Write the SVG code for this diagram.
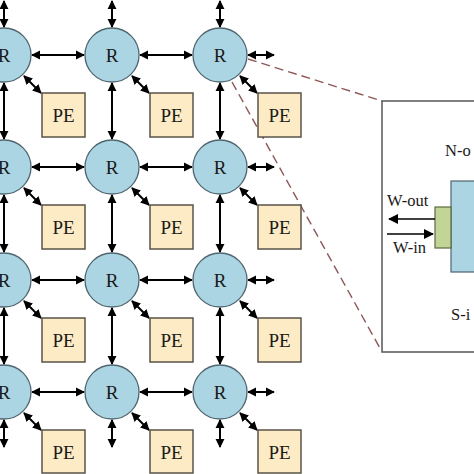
<svg xmlns="http://www.w3.org/2000/svg" width="474" height="474" viewBox="0 0 474 474">
<style>
.r{fill:#acd5e3;stroke:#4f6670;stroke-width:1.3}
.pe{fill:#fcebc4;stroke:#5a5347;stroke-width:1.5}
.t{font-family:"Liberation Serif","Times New Roman",serif;font-size:19px;fill:#1a1a1a;text-anchor:middle}
.lt{font-family:"Liberation Serif","Times New Roman",serif;font-size:16.5px;fill:#1a1a1a}
.a{stroke:#000;stroke-width:2;fill:none;marker-start:url(#h);marker-end:url(#h)}
.dash{stroke:#8e5656;stroke-width:1.4;stroke-dasharray:9 5;fill:none}
</style>
<defs>
<marker id="h" viewBox="0 0 10 10" refX="9" refY="5" markerWidth="9" markerHeight="11" markerUnits="userSpaceOnUse" orient="auto-start-reverse">
<path d="M0,0 L10,5 L0,10 Z" fill="#000"/>
</marker>
<marker id="s" viewBox="0 0 10 10" refX="9" refY="5" markerWidth="10" markerHeight="10" markerUnits="userSpaceOnUse" orient="auto">
<path d="M0,0 L10,5 L0,10 Z" fill="#000"/>
</marker>
</defs>
<rect width="474" height="474" fill="#fff"/>

<g id="connectors">
<line class="a" x1="4" y1="1" x2="4" y2="27"/>
<line class="a" x1="112" y1="1" x2="112" y2="27"/>
<line class="a" x1="220" y1="1" x2="220" y2="27"/>
<line class="a" x1="4" y1="83" x2="4" y2="139"/>
<line class="a" x1="112" y1="83" x2="112" y2="139"/>
<line class="a" x1="220" y1="83" x2="220" y2="139"/>
<line class="a" x1="4" y1="195" x2="4" y2="252"/>
<line class="a" x1="112" y1="195" x2="112" y2="252"/>
<line class="a" x1="220" y1="195" x2="220" y2="252"/>
<line class="a" x1="4" y1="308" x2="4" y2="364"/>
<line class="a" x1="112" y1="308" x2="112" y2="364"/>
<line class="a" x1="220" y1="308" x2="220" y2="364"/>
<line class="a" x1="4" y1="420" x2="4" y2="447"/>
<line class="a" x1="112" y1="420" x2="112" y2="447"/>
<line class="a" x1="220" y1="420" x2="220" y2="447"/>
<line class="a" x1="32" y1="55" x2="84" y2="55"/>
<line class="a" x1="140" y1="55" x2="192" y2="55"/>
<line class="a" x1="248" y1="55" x2="274" y2="55"/>
<line class="a" x1="32" y1="167" x2="84" y2="167"/>
<line class="a" x1="140" y1="167" x2="192" y2="167"/>
<line class="a" x1="248" y1="167" x2="274" y2="167"/>
<line class="a" x1="32" y1="280" x2="84" y2="280"/>
<line class="a" x1="140" y1="280" x2="192" y2="280"/>
<line class="a" x1="248" y1="280" x2="274" y2="280"/>
<line class="a" x1="32" y1="392" x2="84" y2="392"/>
<line class="a" x1="140" y1="392" x2="192" y2="392"/>
<line class="a" x1="248" y1="392" x2="274" y2="392"/>
<line class="a" x1="24" y1="76" x2="41" y2="93"/>
<line class="a" x1="132" y1="76" x2="149" y2="93"/>
<line class="a" x1="240" y1="76" x2="257" y2="93"/>
<line class="a" x1="24" y1="188" x2="41" y2="205"/>
<line class="a" x1="132" y1="188" x2="149" y2="205"/>
<line class="a" x1="240" y1="188" x2="257" y2="205"/>
<line class="a" x1="24" y1="301" x2="41" y2="318"/>
<line class="a" x1="132" y1="301" x2="149" y2="318"/>
<line class="a" x1="240" y1="301" x2="257" y2="318"/>
<line class="a" x1="24" y1="413" x2="41" y2="430"/>
<line class="a" x1="132" y1="413" x2="149" y2="430"/>
<line class="a" x1="240" y1="413" x2="257" y2="430"/>
<line class="dash" x1="248" y1="59" x2="382" y2="101"/>
<line class="dash" x1="232" y1="82" x2="381" y2="350"/>
</g>

<g id="routers">
<g id="r11"><circle class="r" cx="4" cy="55" r="27"/><text class="t" x="4" y="62">R</text></g>
<g id="r12"><circle class="r" cx="112" cy="55" r="27"/><text class="t" x="112" y="62">R</text></g>
<g id="r13"><circle class="r" cx="220" cy="55" r="27"/><text class="t" x="220" y="62">R</text></g>
<g id="r21"><circle class="r" cx="4" cy="167" r="27"/><text class="t" x="4" y="174">R</text></g>
<g id="r22"><circle class="r" cx="112" cy="167" r="27"/><text class="t" x="112" y="174">R</text></g>
<g id="r23"><circle class="r" cx="220" cy="167" r="27"/><text class="t" x="220" y="174">R</text></g>
<g id="r31"><circle class="r" cx="4" cy="280" r="27"/><text class="t" x="4" y="287">R</text></g>
<g id="r32"><circle class="r" cx="112" cy="280" r="27"/><text class="t" x="112" y="287">R</text></g>
<g id="r33"><circle class="r" cx="220" cy="280" r="27"/><text class="t" x="220" y="287">R</text></g>
<g id="r41"><circle class="r" cx="4" cy="392" r="27"/><text class="t" x="4" y="399">R</text></g>
<g id="r42"><circle class="r" cx="112" cy="392" r="27"/><text class="t" x="112" y="399">R</text></g>
<g id="r43"><circle class="r" cx="220" cy="392" r="27"/><text class="t" x="220" y="399">R</text></g>
</g>

<g id="pes">
<g id="pe11"><rect class="pe" x="42" y="93" width="43" height="44"/><text class="t" x="63.5" y="122">PE</text></g>
<g id="pe12"><rect class="pe" x="150" y="93" width="43" height="44"/><text class="t" x="171.5" y="122">PE</text></g>
<g id="pe13"><rect class="pe" x="258" y="93" width="43" height="44"/><text class="t" x="279.5" y="122">PE</text></g>
<g id="pe21"><rect class="pe" x="42" y="205" width="43" height="44"/><text class="t" x="63.5" y="234">PE</text></g>
<g id="pe22"><rect class="pe" x="150" y="205" width="43" height="44"/><text class="t" x="171.5" y="234">PE</text></g>
<g id="pe23"><rect class="pe" x="258" y="205" width="43" height="44"/><text class="t" x="279.5" y="234">PE</text></g>
<g id="pe31"><rect class="pe" x="42" y="318" width="43" height="44"/><text class="t" x="63.5" y="347">PE</text></g>
<g id="pe32"><rect class="pe" x="150" y="318" width="43" height="44"/><text class="t" x="171.5" y="347">PE</text></g>
<g id="pe33"><rect class="pe" x="258" y="318" width="43" height="44"/><text class="t" x="279.5" y="347">PE</text></g>
<g id="pe41"><rect class="pe" x="42" y="430" width="43" height="43"/><text class="t" x="63.5" y="459">PE</text></g>
<g id="pe42"><rect class="pe" x="150" y="430" width="43" height="43"/><text class="t" x="171.5" y="459">PE</text></g>
<g id="pe43"><rect class="pe" x="258" y="430" width="43" height="43"/><text class="t" x="279.5" y="459">PE</text></g>
</g>

<g id="detail">
<rect x="382" y="101" width="100" height="251" fill="#fff" stroke="#555" stroke-width="1.5"/>
<rect x="451" y="181" width="30" height="91" fill="#acd5e3" stroke="#4f6670" stroke-width="1.2"/>
<rect x="435" y="207" width="16" height="41" fill="#c3d596" stroke="#5a6a40" stroke-width="1.2"/>
<text class="lt" x="445" y="156">N-o</text>
<text class="lt" x="387" y="206">W-out</text>
<text class="lt" x="393" y="253">W-in</text>
<text class="lt" x="451" y="320">S-i</text>
<line x1="435" y1="219" x2="389" y2="219" stroke="#000" stroke-width="1.5" marker-end="url(#s)"/>
<line x1="387" y1="234" x2="433" y2="234" stroke="#000" stroke-width="1.5" marker-end="url(#s)"/>
</g>
</svg>
